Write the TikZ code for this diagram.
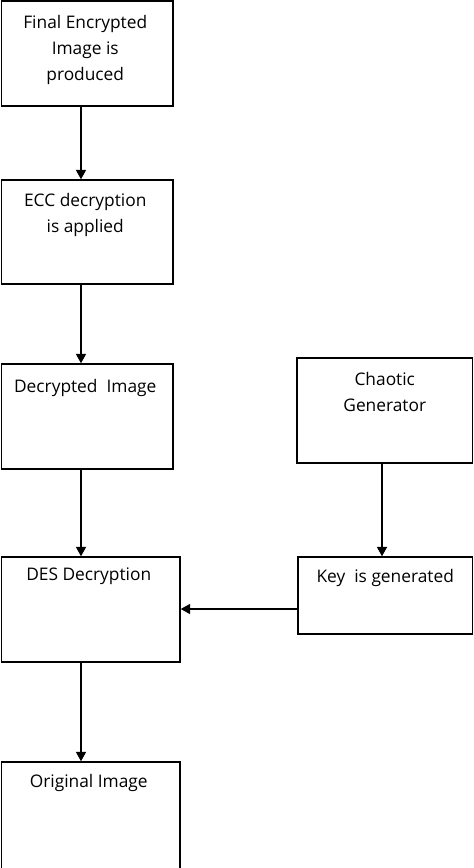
\documentclass[tikz,border=0pt]{standalone}
\usepackage{fontspec}
\setmainfont{Open Sans}
\usetikzlibrary{arrows.meta,calc}

\tikzset{
  stepbox/.style={draw, line width=1.1pt, inner sep=0pt},
  steptext/.style={anchor=north, inner sep=0pt, align=center, font=\fontsize{13}{19.5}\selectfont},
  flow/.style={line width=1.1pt, -{Triangle[length=7pt,width=7.5pt]}}
}

\begin{document}
\begin{tikzpicture}[x=0.75pt,y=0.75pt,yscale=-1]
\useasboundingbox (0,0) rectangle (474,868);

% lanes for the connectors
\coordinate (lane) at (81,0);
\coordinate (keylane) at (382,0);
\coordinate (keyrow) at (0,609);

% Boxes, left column
\node [stepbox, minimum width=128.6pt, minimum height=78.75pt] (final) at (87.25,53.5) {};
\node [stepbox, minimum width=128.6pt, minimum height=78pt] (ecc) at (87.25,232) {};
\node [stepbox, minimum width=128.6pt, minimum height=78.75pt] (dec) at (87.25,416.5) {};
\node [stepbox, minimum width=133.9pt, minimum height=78.75pt] (des) at (90.75,609.5) {};
\node [stepbox, minimum width=133.9pt, minimum height=82.5pt] (orig) at (90.75,817) {};

% Boxes, right column
\node [stepbox, minimum width=131.6pt, minimum height=78.75pt] (chaos) at (384.75,410.5) {};
\node [stepbox, minimum width=130.9pt, minimum height=57.75pt] (key) at (385.25,595.5) {};

% Text Node
\node [steptext] (finaltxt) at ($(final.north)+(-2,14.5)$) {Final Encrypted\\Image is\\produced};
% Text Node
\node [steptext] (ecctxt) at ($(ecc.north)+(-2,13.5)$) {ECC decryption\\is applied};
% Text Node
\node [steptext] (dectxt) at ($(dec.north)+(-2,15.5)$) {Decrypted\ \ Image};
% Text Node
\node [steptext] (destxt) at ($(des.north)+(-2,11.5)$) {DES Decryption};
% Text Node
\node [steptext] (origtxt) at ($(orig.north)+(-2,12.5)$) {Original Image};
% Text Node
\node [steptext] (chaostxt) at ($(chaos.north)+(0,14.5)$) {Chaotic\\Generator};
% Text Node
\node [steptext] (keytxt) at ($(key.north)+(0,12.5)$) {Key\ \ is generated};

% Connectors
\draw [flow] (final.south -| lane) -- (ecc.north -| lane);
\draw [flow] (ecc.south -| lane) -- (dec.north -| lane);
\draw [flow] (dec.south -| lane) -- (des.north -| lane);
\draw [flow] (des.south -| lane) -- (orig.north -| lane);
\draw [flow] (chaos.south -| keylane) -- (key.north -| keylane);
\draw [flow] (key.west |- keyrow) -- (des.east |- keyrow);

\end{tikzpicture}
\end{document}
